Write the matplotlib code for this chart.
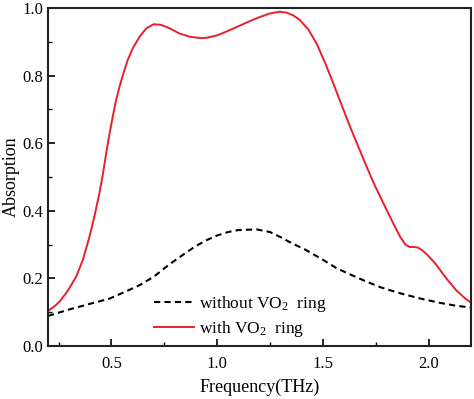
import matplotlib
matplotlib.use("Agg")
import matplotlib.pyplot as plt
from matplotlib.ticker import MultipleLocator, FormatStrFormatter

freq_with = [0.20, 0.23, 0.254, 0.29, 0.333, 0.365, 0.396, 0.42, 0.443, 0.46, 0.475, 0.49, 0.506, 0.52, 0.538,
             0.557, 0.577, 0.60, 0.633, 0.665, 0.70, 0.735, 0.775, 0.82, 0.87, 0.92, 0.95, 1.00, 1.05, 1.10,
             1.15, 1.20, 1.25, 1.296, 1.33, 1.36, 1.39, 1.43, 1.47, 1.51, 1.549, 1.59, 1.628, 1.667, 1.707,
             1.745, 1.786, 1.825, 1.865, 1.89, 1.91, 1.93, 1.95, 1.97, 1.99, 2.03, 2.086, 2.13, 2.17, 2.20]
abs_with = [0.104, 0.117, 0.131, 0.160, 0.205, 0.255, 0.323, 0.385, 0.452, 0.510, 0.570, 0.625, 0.678, 0.722, 0.767,
            0.808, 0.846, 0.880, 0.915, 0.940, 0.952, 0.950, 0.940, 0.925, 0.915, 0.911, 0.912, 0.919, 0.932, 0.946,
            0.960, 0.973, 0.984, 0.989, 0.986, 0.978, 0.965, 0.937, 0.895, 0.838, 0.777, 0.710, 0.649, 0.590, 0.530,
            0.475, 0.422, 0.372, 0.323, 0.300, 0.293, 0.293, 0.291, 0.283, 0.272, 0.245, 0.198, 0.165, 0.142, 0.128]

freq_without = [0.20, 0.30, 0.40, 0.49, 0.57, 0.633, 0.70, 0.775, 0.85, 0.90, 0.949, 1.00, 1.05, 1.10, 1.186, 1.25,
                1.30, 1.35, 1.42, 1.50, 1.565, 1.628, 1.70, 1.78, 1.865, 1.95, 2.05, 2.13, 2.20]
abs_without = [0.089, 0.108, 0.125, 0.140, 0.162, 0.180, 0.205, 0.242, 0.275, 0.296, 0.313, 0.327, 0.337, 0.343, 0.345, 0.337,
               0.322, 0.305, 0.284, 0.255, 0.230, 0.212, 0.192, 0.172, 0.156, 0.142, 0.128, 0.119, 0.114]

label_without = "without VO$_2$  ring"
label_with = "with VO$_2$  ring"

plt.rcParams['font.family'] = ['Liberation Serif', 'DejaVu Serif']
plt.rcParams['mathtext.fontset'] = 'custom'
plt.rcParams['mathtext.rm'] = 'Liberation Serif'
plt.rcParams['mathtext.it'] = 'Liberation Serif:italic'

fig = plt.figure(figsize=(4.74, 3.99), dpi=100)
ax = fig.add_axes([48/474, 1 - 346/399, (471-48)/474, (346-8)/399])

ax.plot(freq_without, abs_without, color='black', linestyle=(0, (3, 2)), linewidth=1.5, label=label_without)
ax.plot(freq_with, abs_with, color='#e8202a', linewidth=1.4, label=label_with)

ax.set_xlim(0.2, 2.2)
ax.set_ylim(0.0, 1.0)
ax.xaxis.set_major_locator(MultipleLocator(0.5))
ax.xaxis.set_minor_locator(MultipleLocator(0.25))
ax.yaxis.set_major_locator(MultipleLocator(0.2))
ax.yaxis.set_minor_locator(MultipleLocator(0.1))
ax.tick_params(which='both', direction='in', top=False, right=False, labelsize=12)
ax.tick_params(which='major', length=5, width=1.2)
ax.tick_params(which='minor', length=3, width=1.0)
ax.tick_params(axis='x', which='major', pad=7)
ax.xaxis.set_major_formatter(FormatStrFormatter('%.1f'))
ax.yaxis.set_major_formatter(FormatStrFormatter('%.1f'))
for s in ax.spines.values():
    s.set_linewidth(1.5)
    s.set_color('#222222')

ax.set_xlabel('Frequency(THz)', fontsize=13)
ax.set_ylabel('Absorption', fontsize=13)
ax.xaxis.set_label_coords(0.5, -0.097)
ax.yaxis.set_label_coords(-0.066, 0.5)

ax.legend(loc='lower left', bbox_to_anchor=(0.213, -0.025), frameon=False, fontsize=12.5,
          handlelength=2.3, handletextpad=0.3, labelspacing=0.25)

fig.savefig('out.png', dpi=100)
